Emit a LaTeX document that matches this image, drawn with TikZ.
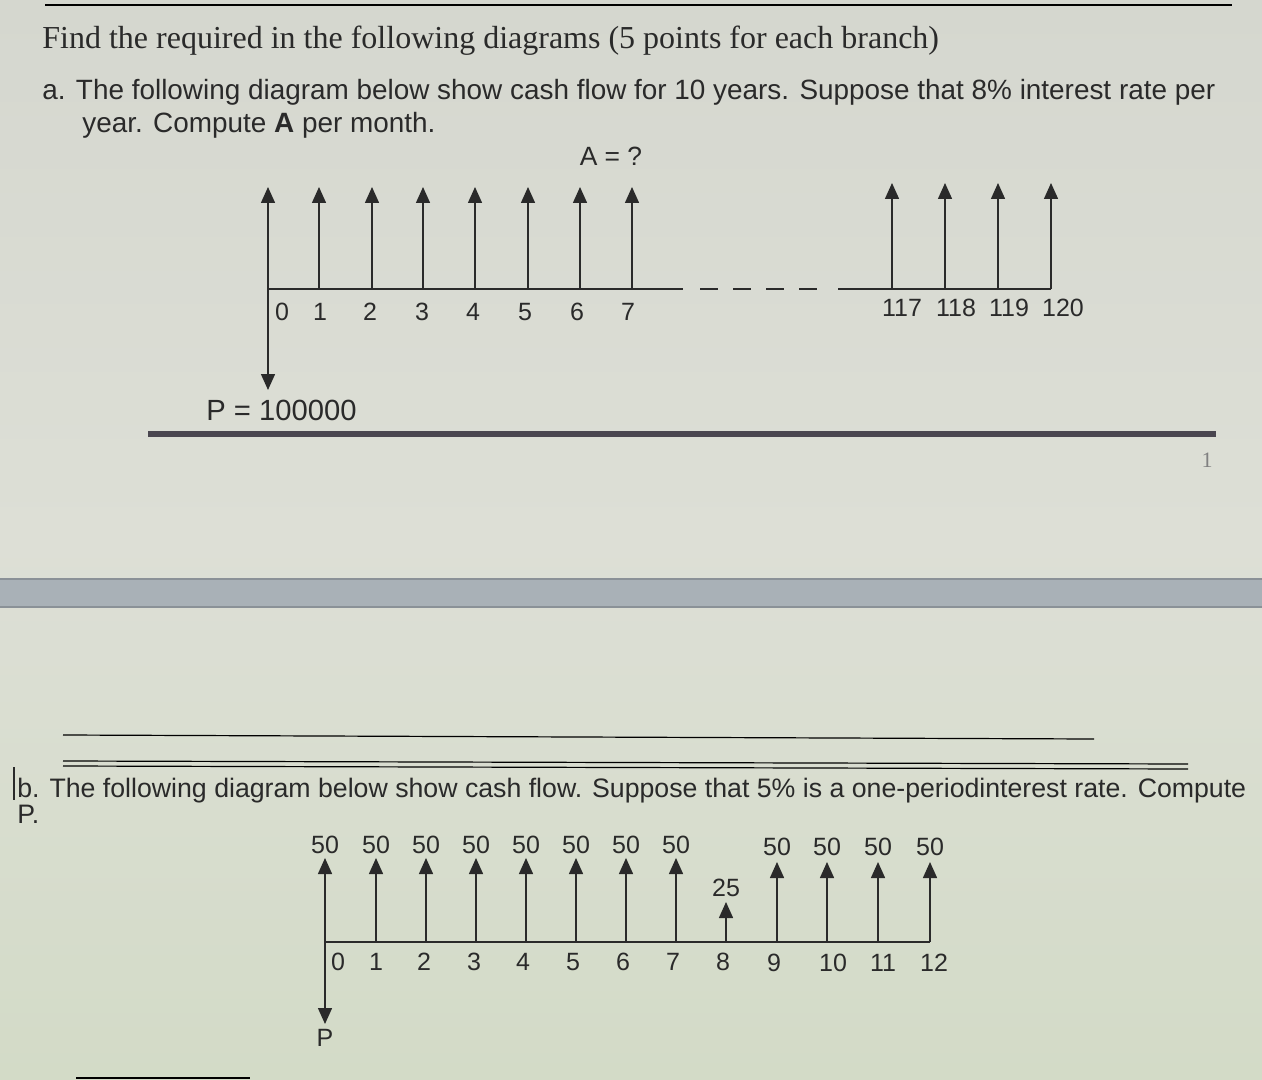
\documentclass[tikz,border=0pt]{standalone}
\usepackage{fontspec}
\setmainfont{Liberation Sans}
\newfontfamily\serifF{Liberation Serif}
\usetikzlibrary{arrows.meta}
\definecolor{bgtop}{HTML}{D5D7CF}
\definecolor{bgmid}{HTML}{DDDFD6}
\definecolor{bgbot}{HTML}{D3DBC7}
\definecolor{ink}{HTML}{2A2A2A}
\definecolor{rule}{HTML}{4A4650}
\definecolor{band}{HTML}{A9B1B7}
\definecolor{bandedge}{HTML}{8A9197}
\definecolor{thin}{HTML}{6E706C}
\tikzset{
  cf/.style={draw=ink, line width=0.75pt, -{Triangle[width=7pt,length=8pt]}},
  axisline/.style={draw=ink, line width=0.7pt},
  txt/.style={anchor=base west, inner sep=0pt, text=ink},
  lbl/.style={anchor=base, inner sep=0pt, text=ink, font=\fontsize{12.5}{14}\selectfont},
}
\begin{document}
\begin{tikzpicture}[x=0.5pt,y=-0.5pt]
\useasboundingbox (0,0) rectangle (1262,1080);
\shade[top color=bgtop, bottom color=bgbot, middle color=bgmid] (0,0) rectangle (1262,1080);

% top rule
\draw[thin, line width=1pt] (45,5) -- (1232,5);

% headings
\node[txt, font=\serifF\fontsize{16}{18}\selectfont] (title) at (42,49)
  {Find the required in the following diagrams (5 points for each branch)};
\node[txt, font=\fontsize{13.95}{16}\selectfont] (qa1) at (42,100)
  {a. The following diagram below show cash flow for 10 years. Suppose that 8\% interest rate per};
\node[txt, font=\fontsize{13.95}{16}\selectfont] (qa2) at (82,133)
  {year. Compute \textbf{A} per month.};
\node[lbl, font=\fontsize{13.2}{15}\selectfont] (Aq) at (611,166) {A = ?};

% ---------- diagram a ----------
\coordinate (aend) at (683,289);
\coordinate (dstart) at (700,289);
\coordinate (dend) at (818,289);
\coordinate (rstart) at (838,289);
\foreach \i/\x/\lx in {0/268/282,1/319/320,2/372/370,3/423/422,4/475/473,5/528/525,6/580/577,7/632/628}{
  \coordinate (a\i) at (\x,289);
  \coordinate (at\i) at (\x,187);
  \draw[cf] (a\i) -- (at\i);
  \node[lbl] (al\i) at (\lx,321) {\i};
}
\draw[axisline] (a0) -- (aend);
\draw[axisline, dash pattern=on 9pt off 7.5pt] (dstart) -- (dend);
\foreach \n/\x/\lx in {117/892/902,118/945/956,119/998/1009,120/1051/1063}{
  \coordinate (r\n) at (\x,289);
  \coordinate (rt\n) at (\x,183);
  \draw[cf] (r\n) -- (rt\n);
  \node[lbl] (rl\n) at (\lx,317) {\n};
}
\draw[axisline] (rstart) -- (r120);
\coordinate (pdown) at (268,390);
\draw[cf] (a0) -- (pdown);
\node[txt, font=\fontsize{14.6}{17}\selectfont] (Pa) at (206,420) {P = 100000};

% thick rule and page number
\draw[rule, line width=3pt] (148,434) -- (1216,434);
\node[anchor=base, inner sep=0pt, text=gray, font=\serifF\fontsize{11}{13}\selectfont] (pg) at (1207,467) {1};

% gray band
\fill[band] (0,579) rectangle (1262,607);
\draw[bandedge, line width=0.8pt] (0,579) -- (1262,579);
\draw[bandedge, line width=0.8pt] (0,607) -- (1262,607);

% thin lines
\draw[thin, line width=0.6pt] (63,735) -- (1094,739);
\draw[thin, line width=0.6pt] (63,761) -- (1188,764);
\draw[thin, line width=0.6pt] (63,766) -- (1188,769);
\draw[ink, line width=0.6pt] (14,767) -- (14,800);

% part b text
\node[txt, font=\fontsize{13.35}{16}\selectfont] (qb1) at (17,797)
  {b. The following diagram below show cash flow. Suppose that 5\% is a one-periodinterest rate. Compute};
\node[txt, font=\fontsize{13.35}{16}\selectfont] (qb2) at (17,823) {P.};

% ---------- diagram b ----------
\foreach \i/\x/\lx in {0/325/338,1/376/376,2/426/424,3/476/474,4/526/523,5/576/573,6/626/623,7/676/673}{
  \coordinate (b\i) at (\x,942);
  \coordinate (bt\i) at (\x,858);
  \draw[cf] (b\i) -- (bt\i);
  \node[lbl] (bv\i) at (\x,853) {50};
  \node[lbl] (bl\i) at (\lx,970) {\i};
}
\coordinate (b8) at (726,942);
\coordinate (bt8) at (726,902);
\draw[cf] (b8) -- (bt8);
\node[lbl] (bv8) at (726,896) {25};
\node[lbl] (bl8) at (723,970) {8};
\foreach \i/\x/\lx in {9/777/774,10/827/833,11/878/883,12/930/934}{
  \coordinate (b\i) at (\x,942);
  \coordinate (bt\i) at (\x,862);
  \draw[cf] (b\i) -- (bt\i);
  \node[lbl] (bv\i) at (\x,855) {50};
  \node[lbl] (bl\i) at (\lx,971) {\i};
}
\draw[axisline] (b0) -- (b12);
\coordinate (bp) at (325,1024);
\draw[cf] (b0) -- (bp);
\node[lbl] (Pb) at (325,1046) {P};

% bottom short line
\draw[thin, line width=0.8pt] (76,1078) -- (250,1078);
\end{tikzpicture}
\end{document}
